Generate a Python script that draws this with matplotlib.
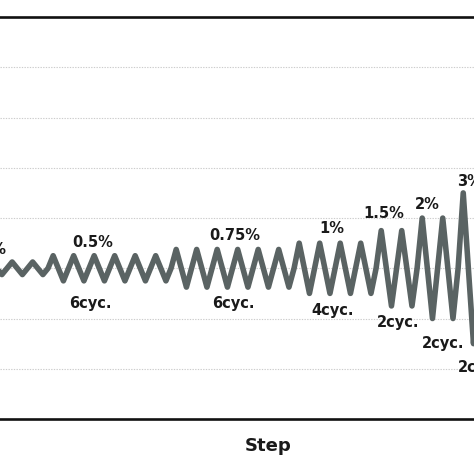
import matplotlib
matplotlib.use("Agg")
import matplotlib.pyplot as plt
import numpy as np

# ---- data ----
drift_levels = [0.25, 0.5, 0.75, 1.0, 1.5, 2.0, 3.0]   # drift amplitude (%)
cycles_per_level = [6, 6, 6, 4, 2, 2, 2]

amp_labels = ["0.25%", "0.5%", "0.75%", "1%", "1.5%", "2%", "3%"]
amp_label_x = [15.9, 32.8, 60.5, 79.4, 89.4, 97.9, 106.2]
amp_label_y = [0.76, 1.04, 1.32, 1.6, 2.2, 2.52, 3.44]

cyc_labels = ["6cyc.", "6cyc.", "4cyc.", "2cyc.", "2cyc.", "2cyc."]
cyc_label_x = [32.2, 60.1, 79.6, 92.3, 101.1, 104.0]
cyc_label_y = [-1.4, -1.4, -1.68, -2.16, -3.0, -3.96]
cyc_label_ha = ["center", "center", "center", "center", "center", "left"]

# build the loading history: each cycle = 0 -> +A -> 0 -> -A
history = [0.0]
for a, n in zip(drift_levels, cycles_per_level):
    for _ in range(n):
        history += [a, 0.0, -a, 0.0]
steps = np.arange(len(history))

plt.rcParams['font.family'] = ['DejaVu Sans']

fig = plt.figure(figsize=(4.74, 4.74), dpi=100)
ax = fig.add_axes([0.0, 0.116, 1.0, 0.848])

ax.plot(steps, history, color='#5a6363', lw=4.0, solid_joinstyle='round',
        solid_capstyle='round', zorder=3)

ax.set_xlim(14.63, 107.1)
ax.set_ylim(-6, 10)
ax.set_yticks(np.arange(-4, 10, 2))
ax.yaxis.grid(True, color='#cccccc', linestyle=(0, (1.2, 1.2)), lw=0.8, zorder=0)
ax.tick_params(axis='both', length=0, labelleft=False, labelbottom=False)
ax.set_xticks([])

for s in ['left', 'right']:
    ax.spines[s].set_visible(False)
for s in ['top', 'bottom']:
    ax.spines[s].set_linewidth(1.9)
    ax.spines[s].set_color('#111111')

for t, x, y in zip(amp_labels, amp_label_x, amp_label_y):
    ha = 'right' if t == "0.25%" else 'center'
    ax.text(x, y, t, ha=ha, va='center', fontsize=10.5, fontweight='bold',
            color='#1a1a1a', zorder=4)
for t, x, y, ha in zip(cyc_labels, cyc_label_x, cyc_label_y, cyc_label_ha):
    ax.text(x, y, t, ha=ha, va='center', fontsize=10.5, fontweight='bold',
            color='#1a1a1a', zorder=4)

fig.text(268 / 474, 1 - 446 / 474, "Step", ha='center', va='center',
         fontsize=13, fontweight='bold', color='#1a1a1a')

fig.savefig("out.png", dpi=100)
